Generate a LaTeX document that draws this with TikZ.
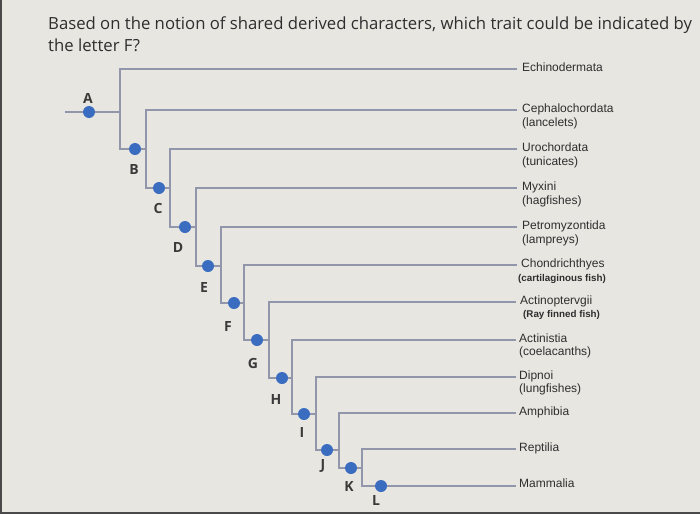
\documentclass[tikz,border=0pt]{standalone}
\usepackage{fontspec}
\setmainfont{Liberation Sans}
\newfontfamily\titlefont{Open Sans}
\definecolor{bgc}{HTML}{E8E6E1}
\definecolor{linec}{HTML}{9296AA}
\definecolor{dotc}{HTML}{3A6CC0}
\definecolor{textc}{HTML}{2E2E2E}
\definecolor{lettc}{HTML}{3A3A3A}
\definecolor{framec}{HTML}{4A4A4A}
\tikzset{
  br/.style={draw=linec, line width=2.4pt},
  dotn/.style={circle, fill=dotc, inner sep=0pt, minimum size=12pt},
  lett/.style={font=\titlefont\bfseries\fontsize{14}{16}\selectfont, text=lettc, inner sep=0pt},
  leaf/.style={font=\fontsize{12}{14}\selectfont, text=textc, anchor=base west, inner sep=0pt},
  subb/.style={font=\bfseries\fontsize{9.8}{12}\selectfont, text=textc, anchor=base west, inner sep=0pt},
  ttl/.style={font=\titlefont\fontsize{16.7}{20}\selectfont, text=textc, anchor=base west, inner sep=0pt},
}
\begin{document}
\begin{tikzpicture}[x=1pt,y=-1pt]
\fill[bgc] (0,0) rectangle (700,514);
\useasboundingbox (0,0) rectangle (700,514);
\draw[framec, line width=2pt] (1,0) -- (1,513) -- (700,513);

% title
\node[ttl] (t1) at (48,29) {Based on the notion of shared derived characters, which trait could be indicated by};
\node[ttl] (t2) at (48,51) {the letter F?};

% leaf end coordinates
\coordinate (e1) at (517,69);
\coordinate (e2) at (517,110);
\coordinate (e3) at (517,149);
\coordinate (e4) at (517,188);
\coordinate (e5) at (517,227);
\coordinate (e6) at (517,265);
\coordinate (e7) at (516,302);
\coordinate (e8) at (516,340);
\coordinate (e9) at (516,377);
\coordinate (e10) at (516,413);
\coordinate (e11) at (516,449);
\coordinate (e12) at (516,486);

% leaf labels
\node[leaf] (n1) at (522,71.5) {Echinodermata};
\node[leaf] (n2) at (522,112) {Cephalochordata};
\node[leaf] (s2) at (522,126.5) {(lancelets)};
\node[leaf] (n3) at (522,151) {Urochordata};
\node[leaf] (s3) at (522,165) {(tunicates)};
\node[leaf] (n4) at (522,190) {Myxini};
\node[leaf] (s4) at (522,204.5) {(hagfishes)};
\node[leaf] (n5) at (522,229) {Petromyzontida};
\node[leaf] (s5) at (522,243) {(lampreys)};
\node[leaf] (n6) at (521,267) {Chondrichthyes};
\node[subb] (s6) at (518,281) {(cartilaginous fish)};
\node[leaf] (n7) at (520,304) {Actinoptervgii};
\node[subb] (s7) at (523,317) {(Ray finned fish)};
\node[leaf] (n8) at (519,342) {Actinistia};
\node[leaf] (s8) at (519,355.5) {(coelacanths)};
\node[leaf] (n9) at (519,379.5) {Dipnoi};
\node[leaf] (s9) at (519,392.5) {(lungfishes)};
\node[leaf] (n10) at (519,415) {Amphibia};
\node[leaf] (n11) at (519,451.5) {Reptilia};
\node[leaf] (n12) at (519,487.5) {Mammalia};

% tree coordinates
\coordinate (root) at (65,112);
\coordinate (v1m) at (120,112);  \coordinate (v1t) at (120,69);  \coordinate (v1b) at (120,149);
\coordinate (v2m) at (146,149);  \coordinate (v2t) at (146,110); \coordinate (v2b) at (146,188);
\coordinate (v3m) at (170,188);  \coordinate (v3t) at (170,149); \coordinate (v3b) at (170,227);
\coordinate (v4m) at (196,227);  \coordinate (v4t) at (196,188); \coordinate (v4b) at (196,266);
\coordinate (v5m) at (221,266);  \coordinate (v5t) at (221,227); \coordinate (v5b) at (221,303);
\coordinate (v6m) at (244,303);  \coordinate (v6t) at (244,265); \coordinate (v6b) at (244,340);
\coordinate (v7m) at (269,340);  \coordinate (v7t) at (269,302); \coordinate (v7b) at (269,378);
\coordinate (v8m) at (292,378);  \coordinate (v8t) at (292,340); \coordinate (v8b) at (292,414);
\coordinate (v9m) at (316,414);  \coordinate (v9t) at (316,377); \coordinate (v9b) at (316,450);
\coordinate (v10m) at (339,450); \coordinate (v10t) at (339,413); \coordinate (v10b) at (339,468);
\coordinate (v11m) at (362,468); \coordinate (v11t) at (362,449); \coordinate (v11b) at (362,486);

% dots
\node[dotn] (A) at (89,112) {};
\node[dotn] (B) at (135,149) {};
\node[dotn] (C) at (159,188) {};
\node[dotn] (D) at (185,227) {};
\node[dotn] (E) at (208,266) {};
\node[dotn] (F) at (234,303) {};
\node[dotn] (G) at (257,340) {};
\node[dotn] (H) at (282,378) {};
\node[dotn] (I) at (304,414) {};
\node[dotn] (J) at (327,450) {};
\node[dotn] (K) at (351,468) {};
\node[dotn] (L) at (381,486) {};

% branches
\draw[br] (root) -- (A) -- (v1m);
\draw[br] (e1) -- (v1t) -- (v1b) -- (B) -- (v2m);
\draw[br] (e2) -- (v2t) -- (v2b) -- (C) -- (v3m);
\draw[br] (e3) -- (v3t) -- (v3b) -- (D) -- (v4m);
\draw[br] (e4) -- (v4t) -- (v4b) -- (E) -- (v5m);
\draw[br] (e5) -- (v5t) -- (v5b) -- (F) -- (v6m);
\draw[br] (e6) -- (v6t) -- (v6b) -- (G) -- (v7m);
\draw[br] (e7) -- (v7t) -- (v7b) -- (H) -- (v8m);
\draw[br] (e8) -- (v8t) -- (v8b) -- (I) -- (v9m);
\draw[br] (e9) -- (v9t) -- (v9b) -- (J) -- (v10m);
\draw[br] (e10) -- (v10t) -- (v10b) -- (K) -- (v11m);
\draw[br] (e11) -- (v11t) -- (v11b) -- (L) -- (e12);

% letter labels
\node[lett] (lA) at (88,98) {A};
\node[lett] (lB) at (134,169) {B};
\node[lett] (lC) at (158,208) {C};
\node[lett] (lD) at (178,247) {D};
\node[lett] (lE) at (204,287) {E};
\node[lett] (lF) at (228,326) {F};
\node[lett] (lG) at (253,363) {G};
\node[lett] (lH) at (276,399) {H};
\node[lett] (lI) at (302,432) {I};
\node[lett] (lJ) at (323,466) {J};
\node[lett] (lK) at (349,486) {K};
\node[lett] (lL) at (376,500) {L};
\end{tikzpicture}
\end{document}
